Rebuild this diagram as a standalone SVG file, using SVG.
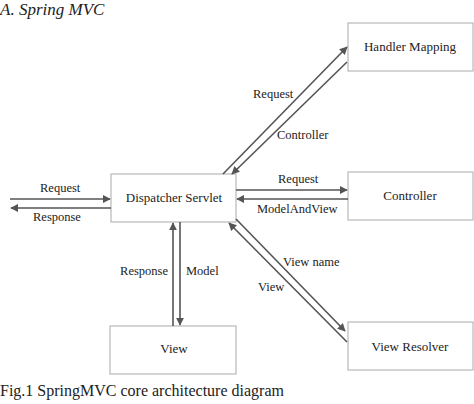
<svg xmlns="http://www.w3.org/2000/svg" width="474" height="404" viewBox="0 0 474 404">
<defs>
<style>
.box{fill:#fff;stroke:#b8b8b8;stroke-width:1.2}
.t{font-size:13px;fill:#222}
.l{font-size:12.5px;fill:#222}
.c{stroke:#555;stroke-width:1.6;fill:none;marker-end:url(#ah)}
</style>
<marker id="ah" viewBox="0 0 10 10" refX="9" refY="5" markerWidth="5" markerHeight="5" orient="auto" markerUnits="strokeWidth">
<path d="M0,0 L10,5 L0,10 z" fill="#555"/>
</marker>
</defs>
<rect width="474" height="404" fill="#fff"/>
<g font-family="'Liberation Serif', 'Times New Roman', serif">
<text x="0" y="15" font-size="17" font-style="italic" fill="#222">A. Spring MVC</text>

<g id="handler-mapping"><rect class="box" x="348" y="23" width="125" height="48"/><text class="t" x="410" y="51" text-anchor="middle">Handler Mapping</text></g>
<g id="dispatcher-servlet"><rect class="box" x="111" y="174" width="125" height="48"/><text class="t" x="174" y="202" text-anchor="middle">Dispatcher Servlet</text></g>
<g id="controller"><rect class="box" x="348" y="172" width="125" height="48"/><text class="t" x="410" y="200" text-anchor="middle">Controller</text></g>
<g id="view"><rect class="box" x="110" y="326" width="126" height="48"/><text class="t" x="174" y="353" text-anchor="middle">View</text></g>
<g id="view-resolver"><rect class="box" x="348" y="322" width="125" height="48"/><text class="t" x="410" y="351" text-anchor="middle">View Resolver</text></g>

<g id="connectors">
<line class="c" x1="10" y1="199" x2="110" y2="199"/>
<line class="c" x1="111" y1="208" x2="11" y2="208"/>
<line class="c" x1="236" y1="190" x2="347" y2="190"/>
<line class="c" x1="348" y1="199" x2="237" y2="199"/>
<line class="c" x1="223" y1="174" x2="347" y2="47"/>
<line class="c" x1="347" y1="62" x2="232" y2="174"/>
<line class="c" x1="236" y1="219" x2="345" y2="331"/>
<line class="c" x1="347" y1="342" x2="229" y2="223"/>
<line class="c" x1="173" y1="326" x2="173" y2="223"/>
<line class="c" x1="180" y1="222" x2="180" y2="325"/>
</g>

<g id="labels">
<text class="l" x="253" y="98">Request</text>
<text class="l" x="277" y="139">Controller</text>
<text class="l" x="40" y="192">Request</text>
<text class="l" x="33" y="221">Response</text>
<text class="l" x="278" y="183">Request</text>
<text class="l" x="257" y="213">ModelAndView</text>
<text class="l" x="283" y="266">View name</text>
<text class="l" x="258" y="291">View</text>
<text class="l" x="168" y="275" text-anchor="end">Response</text>
<text class="l" x="186" y="275">Model</text>
</g>
<text x="0" y="396" font-size="16" fill="#222">Fig.1 SpringMVC core architecture diagram</text>
</g>
</svg>
